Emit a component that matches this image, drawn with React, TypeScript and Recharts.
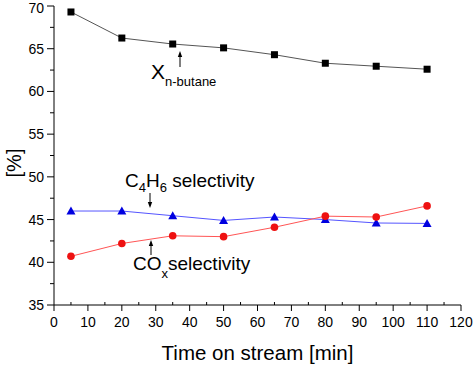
import React from 'react';
import { LineChart, Line, XAxis, YAxis } from 'recharts';

const times = [5, 20, 35, 50, 65, 80, 95, 110];
const conversion = [69.3, 66.25, 65.55, 65.1, 64.3, 63.3, 62.95, 62.6];
const c4h6Selectivity = [46.0, 46.0, 45.45, 44.9, 45.3, 45.0, 44.6, 44.55];
const coxSelectivity = [40.7, 42.2, 43.1, 43.0, 44.1, 45.4, 45.3, 46.6];

const xTicks = Array.from({ length: 25 }, (_, i) => i * 5);
const yTicks = Array.from({ length: 15 }, (_, i) => 35 + i * 2.5);

const data = times.map((t, i) => ({
  t,
  conv: conversion[i],
  c4h6: c4h6Selectivity[i],
  cox: coxSelectivity[i],
}));

const W = 474;
const H = 367;
const FONT = '"Liberation Sans", Arial, sans-serif';

const YTick = (props: any) => {
  const { x, y, payload } = props;
  const v = payload.value;
  const major = v % 5 === 0;
  const baseline = Math.max(y + 5, 13);
  return (
    <g>
      <line x1={x} x2={x - (major ? 7 : 4)} y1={y} y2={y} stroke="#000" strokeWidth={1} />
      {major && (
        <text x={x - 10} y={baseline} textAnchor="end" fontSize={14} fontFamily={FONT} fill="#000">
          {v}
        </text>
      )}
    </g>
  );
};

const XTick = (props: any) => {
  const { x, y, payload } = props;
  const v = payload.value;
  const major = v % 10 === 0;
  return (
    <g>
      {major ? (
        <line x1={x} x2={x} y1={y} y2={y + 6} stroke="#000" strokeWidth={1} />
      ) : (
        <line x1={x} x2={x} y1={y} y2={y - 3} stroke="#000" strokeWidth={1} />
      )}
      {major && (
        <text x={x} y={y} dy={21.5} textAnchor="middle" fontSize={14} fontFamily={FONT} fill="#000">
          {v}
        </text>
      )}
    </g>
  );
};

const Square = (props: any) => {
  const { cx, cy, index } = props;
  if (cx == null || cy == null) return <g key={`s${index}`} />;
  return <rect key={`s${index}`} x={cx - 3.5} y={cy - 3.5} width={7} height={7} fill="#000" />;
};

const Triangle = (props: any) => {
  const { cx, cy, index } = props;
  if (cx == null || cy == null) return <g key={`t${index}`} />;
  return (
    <polygon
      key={`t${index}`}
      points={`${cx},${cy - 4.5} ${cx - 4.5},${cy + 3.5} ${cx + 4.5},${cy + 3.5}`}
      fill="#0000e0"
    />
  );
};

const Circle = (props: any) => {
  const { cx, cy, index } = props;
  if (cx == null || cy == null) return <g key={`c${index}`} />;
  return <circle key={`c${index}`} cx={cx} cy={cy} r={3.8} fill="#ee1111" />;
};

const Arrow = ({ x, y1, y2 }: { x: number; y1: number; y2: number }) => {
  const dir = y2 > y1 ? 1 : -1;
  return (
    <g>
      <line x1={x} x2={x} y1={y1} y2={y2 - dir * 4} stroke="#000" strokeWidth={1} />
      <polygon points={`${x},${y2} ${x - 2.2},${y2 - dir * 6} ${x + 2.2},${y2 - dir * 6}`} fill="#000" />
    </g>
  );
};

export default function App() {
  return (
    <div style={{ position: 'absolute', left: 0, top: 0, width: W, height: H, background: '#fff' }}>
      <LineChart
        width={W}
        height={H}
        data={data}
        margin={{ top: 6, right: 13, bottom: 0, left: 0 }}
      >
        <XAxis
          dataKey="t"
          type="number"
          domain={[0, 120]}
          ticks={xTicks}
          interval={0}
          tick={<XTick />}
          tickLine={false}
          tickSize={0}
          tickMargin={0}
          height={62}
          axisLine={{ stroke: '#000', strokeWidth: 1 }}
        />
        <YAxis
          type="number"
          domain={[35, 70]}
          ticks={yTicks}
          interval={0}
          tick={<YTick />}
          tickLine={false}
          tickSize={0}
          tickMargin={0}
          width={54}
          axisLine={{ stroke: '#000', strokeWidth: 1 }}
        />
        <Line
          dataKey="conv"
          type="linear"
          stroke="#555555"
          strokeWidth={1}
          dot={<Square />}
          activeDot={false}
          isAnimationActive={false}
        />
        <Line
          dataKey="c4h6"
          type="linear"
          stroke="#5555ff"
          strokeWidth={1}
          dot={<Triangle />}
          activeDot={false}
          isAnimationActive={false}
        />
        <Line
          dataKey="cox"
          type="linear"
          stroke="#ff5555"
          strokeWidth={1}
          dot={<Circle />}
          activeDot={false}
          isAnimationActive={false}
        />
      </LineChart>
      <svg
        width={W}
        height={H}
        style={{ position: 'absolute', left: 0, top: 0, pointerEvents: 'none' }}
        fontFamily={FONT}
      >
        <text x={257.5} y={360} textAnchor="middle" fontSize={20.5} fill="#000">
          Time on stream [min]
        </text>
        <text
          x={0}
          y={0}
          transform="translate(21,163) rotate(-90)"
          textAnchor="middle"
          fontSize={20}
          fill="#000"
        >
          [%]
        </text>

        <text x={151} y={79} fontSize={21} fill="#000">
          X
          <tspan fontSize={13} dy={7}>n-butane</tspan>
        </text>
        <Arrow x={180} y1={67} y2={51} />

        <text x={125} y={187} fontSize={19} fill="#000">
          C<tspan fontSize={13} dy={5}>4</tspan>
          <tspan dy={-5}>H</tspan>
          <tspan fontSize={13} dy={5}>6</tspan>
          <tspan dy={-5}> selectivity</tspan>
        </text>
        <Arrow x={150} y1={193} y2={208} />

        <text x={133} y={270} fontSize={19} fill="#000">
          CO<tspan fontSize={13} dy={8}>x</tspan>
          <tspan dy={-8}>selectivity</tspan>
        </text>
        <Arrow x={151} y1={255} y2={240} />
      </svg>
    </div>
  );
}
